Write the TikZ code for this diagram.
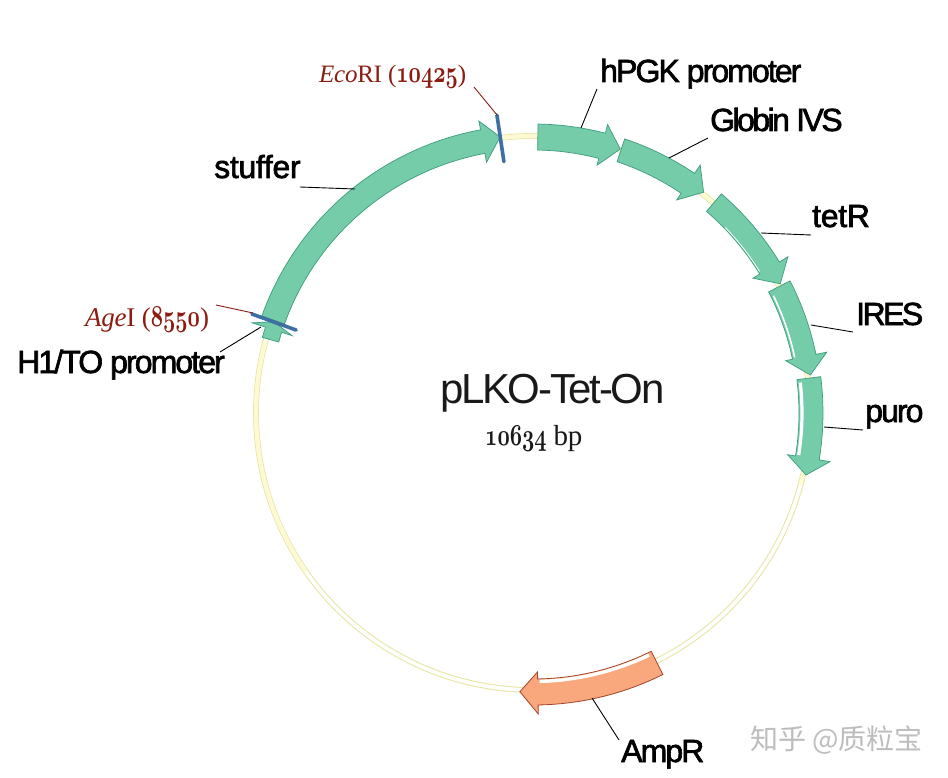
\documentclass[tikz,border=0pt]{standalone}
\usepackage{fontspec}
\setmainfont{Liberation Sans}
\newfontfamily\labfont[FakeBold=2,LetterSpace=-6]{Liberation Sans}
\newfontfamily\labwide[FakeBold=2,LetterSpace=-1]{Liberation Sans}
\newfontfamily\labtight[FakeBold=2,LetterSpace=-8]{Liberation Sans}
\newfontfamily\titlefont[LetterSpace=-5.5]{Liberation Sans}
\newfontfamily\cjkfont{Noto Sans CJK SC}
\newfontfamily\redfont[LetterSpace=-1]{Liberation Serif}
\newcommand\osn[1]{\scalebox{.86}[1.22]{\fontsize{24.88}{26}\usefont{OML}{cmm}{b}{it}#1}}
\definecolor{genefill}{HTML}{74CDA8}
\definecolor{geneline}{HTML}{3C9C80}
\definecolor{ampfill}{HTML}{F9A77C}
\definecolor{ampline}{HTML}{A5432A}
\definecolor{ringfill}{HTML}{FDF9D2}
\definecolor{ringline}{HTML}{E8E4A0}
\definecolor{sitecol}{HTML}{3E6FA3}
\definecolor{redlab}{HTML}{8C1C10}
\definecolor{marks}{HTML}{BDBDBD}
\tikzset{
  genearrow/.style={draw=geneline,fill=genefill,line width=0.7pt,line join=miter},
  amparrow/.style={draw=ampline,fill=ampfill,line width=0.8pt},
  leader/.style={draw=black,line width=0.9pt},
  redleader/.style={draw=redlab,line width=0.9pt},
  sitebar/.style={draw=sitecol,line width=3.6pt,line cap=round},
  genelabel/.style={inner sep=0pt,anchor=base west,font=\labfont\fontsize{32}{34}\selectfont,text=black},
  widelabel/.style={inner sep=0pt,anchor=base west,font=\labwide\fontsize{32}{34}\selectfont,text=black},
  tightlabel/.style={inner sep=0pt,anchor=base west,font=\labtight\fontsize{32}{34}\selectfont,text=black},
  redlabel/.style={inner sep=0pt,anchor=base west,font=\redfont\fontsize{25}{28}\selectfont,text=redlab}
}
% #1 style, #2 tail, #3 head base, #4 tip (clockwise degrees from top), #5 inner r, #6 outer r, #7 wing inner, #8 wing outer, #9 tip r
\newcommand\genepath[9]{%
  \path[#1] ({90-#2}:#6) arc[start angle={90-#2},end angle={90-#3},radius=#6]
   -- ({90-#3}:#8) -- ({90-#4}:#9) -- ({90-#3}:#7) -- ({90-#3}:#5)
   arc[start angle={90-#3},end angle={90-#2},radius=#5] -- cycle;}
% white sliver along a gene: from, to, radius, width
\newcommand\sliver[4]{%
  \draw[white,line width=#4pt] ({90-#1}:#3) arc[start angle={90-#1},end angle={90-#2},radius=#3];}
\begin{document}
\begin{tikzpicture}[x=1pt,y=-1pt]
\useasboundingbox[fill=white] (0,0) rectangle (948,778);
\begin{scope}[shift={(533,413)},x=1pt,y=1pt]
  % ring
  \draw[ringline,line width=5.8pt] (0,0) circle[radius=277];
  \draw[white,line width=3.8pt] (0,0) circle[radius=277];
  \draw[ringfill,line width=4.2pt] (90-40:277) arc[start angle=50,end angle=-15,radius=277];
  \draw[ringfill,line width=4.2pt] (90+75:277) arc[start angle=165,end angle=215,radius=277];
  \draw[ringfill,line width=4.2pt] (85:277) arc[start angle=85,end angle=105,radius=277];
  \draw[ringfill,line width=4.2pt] (50:277) arc[start angle=50,end angle=85,radius=277];
  % features
  \genepath{genearrow}{1}{14.5}{18.3}{263}{289}{256}{298}{278}
  \genepath{genearrow}{18.5}{34}{37.7}{265}{289}{257}{299}{279}
  \genepath{genearrow}{40.7}{58.5}{62.4}{266}{289}{258}{299}{279}
  \genepath{genearrow}{62.8}{78.3}{82.2}{265}{289}{258}{300}{280}
  \genepath{genearrow}{82.8}{99.3}{102.8}{266}{290}{258}{301}{280}
  \sliver{64}{78}{267.5}{1.6}
  \sliver{83.5}{99}{269}{3.2}
  \sliver{46}{58}{267.2}{0.8}
  \genepath{genearrow}{-70.3}{-10.5}{-6.8}{264}{288}{255}{297}{278}
  \genepath{genearrow}{-74.4}{-72.2}{-70.6}{264}{281}{253}{295}{275}
  \genepath{amparrow}{153.6}{179}{182.7}{266}{292}{259}{301}{279}
  \sliver{154.4}{178.6}{268.5}{3.4}
  \draw[sitebar] (90+6.9:300) -- (90+6.6:253);
  \draw[sitebar] (90+70.6:298) -- (90+70.7:251);
\end{scope}
% anchors on features
\coordinate (hpgkA) at (581,128);
\coordinate (globA) at (669,158);
\coordinate (tetA) at (761,233);
\coordinate (iresA) at (811,325);
\coordinate (puroA) at (824,427);
\coordinate (ampA) at (592,698);
\coordinate (stufA) at (355,189);
\coordinate (ecoA) at (497,115);
\coordinate (ageA) at (253,313);
\coordinate (h1A) at (261,327);
% free ends of leaders
\coordinate (hpgkB) at (597,89);
\coordinate (globB) at (708,138);
\coordinate (tetB) at (811,235);
\coordinate (iresB) at (853,332);
\coordinate (puroB) at (863,430);
\coordinate (ampB) at (619,740);
\coordinate (stufB) at (300,187);
\coordinate (ecoB) at (474,87);
\coordinate (ageB) at (216,305);
\coordinate (h1B) at (220,352);
\draw[leader] (hpgkB) -- (hpgkA);
\draw[leader] (globB) -- (globA);
\draw[leader] (tetB) -- (tetA);
\draw[leader] (iresB) -- (iresA);
\draw[leader] (puroB) -- (puroA);
\draw[leader] (ampB) -- (ampA);
\draw[leader] (stufB) -- (stufA);
\draw[leader] (h1B) -- (h1A);
\draw[redleader] (ecoB) -- (ecoA);
\draw[redleader] (ageB) -- (ageA);
% labels
\node[genelabel] (hpgk) at (600,82) {hPGK promoter};
\node[tightlabel] (glob) at (710,131) {Globin IVS};
\node[widelabel] (tet) at (812,227) {tetR};
\node[tightlabel] (ires) at (856,325) {IRES};
\node[genelabel] (puro) at (865,422) {puro};
\node[genelabel] (amp) at (621,762) {AmpR};
\node[widelabel] (stuf) at (214,178) {stuffer};
\node[genelabel] (h1) at (17,373) {H1/TO promoter};
\node[redlabel] (eco) at (319,83) {\textit{Eco}RI (\osn{10425})};
\node[redlabel,font=\redfont\fontsize{27}{30}\selectfont] (age) at (85,326) {\textit{Age}I (\osn{8550})};
\node[inner sep=0pt,anchor=base west,font=\titlefont\fontsize{42}{46}\selectfont,text=black!90] (title) at (440,403) {pLKO-Tet-On};
\node[inner sep=0pt,anchor=base west,font=\redfont\fontsize{29}{32}\selectfont,text=black!90] (size) at (485,445) {\osn{10634} bp};
\node[inner sep=0pt,anchor=west,font=\cjkfont\fontsize{28}{32}\selectfont,text=marks] (mark) at (750,740) {知乎 @质粒宝};
\end{tikzpicture}
\end{document}
